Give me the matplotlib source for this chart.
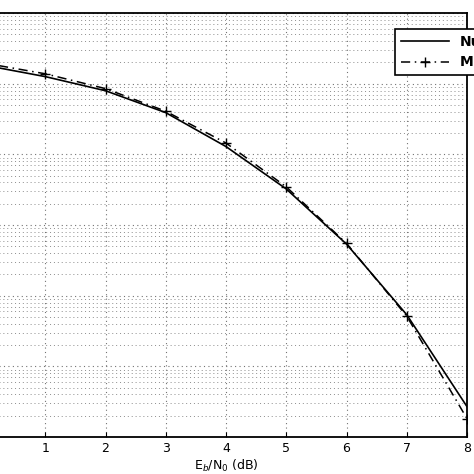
import matplotlib.pyplot as plt
import numpy as np

# Eb/N0 points and BER curves
ebno = [0, 1, 2, 3, 4, 5, 6, 7, 8]
ber_theory = [10**-0.74, 10**-0.90, 10**-1.10, 10**-1.41, 10**-1.89,
              10**-2.49, 10**-3.27, 10**-4.27, 10**-5.57]
ber_sim = [10**-0.71, 10**-0.86, 10**-1.07, 10**-1.39, 10**-1.84,
           10**-2.46, 10**-3.26, 10**-4.29, 10**-5.74]

fig = plt.figure(figsize=(4.74, 4.74), dpi=100)
ax = fig.add_axes([-15/474, 1-437/474, 482/474, 424/474])

ax.semilogy(ebno, ber_theory, 'k-', lw=1.2, label='Numerical')
ax.semilogy(ebno, ber_sim, color='k', ls=(0, (6, 3, 1, 3)), lw=1.1,
            marker='+', ms=7, mew=1.0, label='Monte Carlo')

ax.set_xlim(0, 8)
ax.set_ylim(1e-6, 1)
ax.set_xticks(range(1, 9))
ax.grid(True, which='major', ls=(0, (1, 3)), color='0.45', lw=0.8)
ax.grid(True, which='minor', ls=(0, (1, 3)), color='0.55', lw=0.7)
for s in ax.spines.values():
    s.set_linewidth(1.3)
ax.tick_params(axis='x', labelsize=9, direction='in')
ax.tick_params(axis='y', which='both', left=False, labelleft=False)
ax.set_xlabel(r'E$_b$/N$_0$ (dB)', fontsize=9, labelpad=2)

leg = ax.legend(loc='upper left', bbox_to_anchor=(388/474, 1-22/474),
                bbox_transform=fig.transFigure, fancybox=False,
                edgecolor='black', framealpha=1,
                prop={'weight': 'bold', 'size': 10}, handlelength=3.5)
leg.get_frame().set_linewidth(1.2)

fig.savefig('out.png', dpi=100)
